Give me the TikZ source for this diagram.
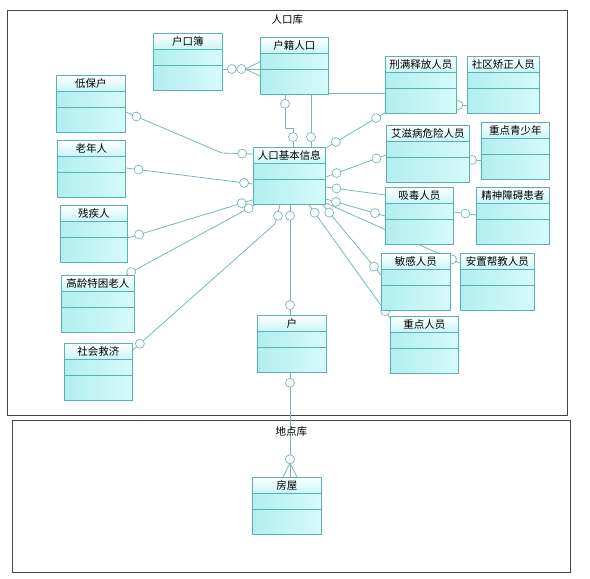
\documentclass[tikz,border=0pt]{standalone}
\usepackage{fontspec}
\setmainfont{Noto Sans CJK SC}
\usetikzlibrary{positioning,calc,backgrounds}
\definecolor{ClsEdge}{RGB}{88,178,178}
\definecolor{ClsFillA}{RGB}{178,238,240}
\definecolor{ClsFillB}{RGB}{214,250,250}
\definecolor{ClsHead}{RGB}{200,245,245}
\definecolor{RelLine}{RGB}{120,184,186}
\definecolor{FrameGray}{RGB}{70,70,70}

% class box: name, x, y (top left, px), width, title
\newcommand{\umlcls}[5]{%
  \node[cls,minimum width=#4pt] (#1) at (#2,#3) {};
  \node[clshead,minimum width=#4pt] (#1-t) at (#1.north) {#5};
  \draw[clsedge] ($(#1.north west)+(0,32)$) -- ($(#1.north east)+(0,32)$);
}

\begin{document}
\begin{tikzpicture}[x=1pt,y=-1pt,
  cls/.style={draw=ClsEdge,line width=0.8pt,left color=ClsFillA,right color=ClsFillB,
              minimum height=57pt,anchor=north west,inner sep=0pt},
  clshead/.style={draw=ClsEdge,line width=0.8pt,top color=white,bottom color=ClsHead,
                  minimum height=16pt,anchor=north,inner sep=0pt,
                  font=\fontsize{10.5}{12}\selectfont},
  clsedge/.style={ClsEdge,line width=0.8pt},
  rel/.style={RelLine,line width=0.8pt},
  optc/.style={circle,draw=RelLine,fill=white,line width=0.7pt,inner sep=0pt,minimum size=9pt},
  frm/.style={draw=FrameGray,line width=0.8pt,anchor=north west,inner sep=0pt},
  frmtitle/.style={font=\fontsize{10.5}{12}\selectfont},
]
\useasboundingbox (0,0) rectangle (590,579);

\begin{scope}[on background layer]
\fill[white] (0,0) rectangle (590,579);
\node[frm,minimum width=560pt,minimum height=405pt] (renkou) at (7,10) {};
\node[frm,minimum width=558pt,minimum height=152pt] (didian) at (12,420) {};
\end{scope}
\node[frmtitle] (renkou-t) at ($(renkou.north)+(0,10)$) {人口库};
\node[frmtitle] (didian-t) at ($(didian.north)+(0,12)$) {地点库};

% classes
\umlcls{hukoubu}{153}{33}{69}{户口簿}
\umlcls{huji}{260}{37}{68}{户籍人口}
\umlcls{xingman}{385}{56}{71}{刑满释放人员}
\umlcls{shequ}{467}{56}{72}{社区矫正人员}
\umlcls{dibao}{56}{75}{69}{低保户}
\umlcls{laonian}{57}{140}{68}{老年人}
\umlcls{jiben}{253}{147}{72}{人口基本信息}
\umlcls{aizi}{386}{125}{83}{艾滋病危险人员}
\umlcls{qingshao}{481}{122}{68}{重点青少年}
\umlcls{xidu}{385}{187}{68}{吸毒人员}
\umlcls{jingshen}{476}{187}{73}{精神障碍患者}
\umlcls{canji}{60}{205}{67}{残疾人}
\umlcls{mingan}{381}{253}{69}{敏感人员}
\umlcls{anzhi}{460}{253}{74}{安置帮教人员}
\umlcls{gaoling}{61}{275}{73}{高龄特困老人}
\umlcls{hu}{257}{315}{69}{户}
\umlcls{zhongdian}{390}{316}{68}{重点人员}
\umlcls{jiuji}{64}{343}{68}{社会救济}
\umlcls{fangwu}{252}{477}{69}{房屋}

% relations
\begin{scope}[on background layer]
\coordinate (hj-w) at ($(huji.north west)+(0,32)$);
\draw[rel] (hukoubu.east |- hj-w) -- node[optc,pos=0.24]{} node[optc,pos=0.5]{} (hj-w);
\draw[rel] ($(hj-w)+(-15,0)$) -- ($(hj-w)+(0,-7)$) ($(hj-w)+(-15,0)$) -- ($(hj-w)+(0,7)$);

\draw[rel] ($(huji.south west)+(25,0)$) |- ($(jiben.north west)+(40,-19)$) -- ($(jiben.north west)+(40,0)$);
\node[optc] (c-hj) at ($(huji.south west)+(25,9)$) {};
\node[optc] (c-jb) at ($(jiben.north west)+(40,-10)$) {};
\draw[rel] ($(huji.south west)+(51,0)$) -- node[optc,pos=0.81]{} ($(jiben.north west)+(58,0)$);

\coordinate (xm-w) at ($(xingman.north west)+(0,37)$);
\draw[rel] (huji.east |- xm-w) -- (xm-w);
\draw[rel] ($(xingman.north east)+(0,49)$) -- node[optc,pos=0.15]{} ($(shequ.north west)+(0,49)$);

\draw[rel] ($(jiben.north east)+(0,1)$) -- node[optc,pos=0.17]{} node[optc,pos=0.85]{} ($(xingman.south west)+(0,-1)$);
\draw[rel] ($(jiben.north east)+(0,30)$) -- node[optc,pos=0.18]{} node[optc,pos=0.84]{} ($(aizi.north west)+(0,30)$);
\draw[rel] ($(aizi.north east)+(0,35)$) -- node[optc,pos=0.2]{} ($(qingshao.north west)+(0,38)$);
\draw[rel] ($(jiben.north east)+(0,40)$) -- node[optc,pos=0.18]{} ($(xidu.north west)+(0,8)$);
\draw[rel] ($(jiben.north east)+(0,52)$) -- node[optc,pos=0.17]{} node[optc,pos=0.83]{} ($(xidu.north west)+(0,29)$);
\draw[rel] ($(jiben.north east)+(0,56)$) -- node[optc,pos=0.94]{} ($(anzhi.north west)+(0,10)$);
\draw[rel] ($(xidu.north east)+(0,25)$) -- node[optc,pos=0.52]{} ($(jingshen.north west)+(0,28)$);
\draw[rel] ($(jiben.south east)+(-3,0)$) -- node[optc,pos=0.11]{} node[optc,pos=0.88]{} ($(mingan.north west)+(0,22)$);
\draw[rel] ($(jiben.south west)+(56,0)$) -- node[optc,pos=0.07]{} node[optc,pos=0.94]{} ($(zhongdian.north west)+(0,2)$);

\draw[rel] ($(jiben.south west)+(37,0)$) -- node[optc,pos=0.1]{} node[optc,pos=0.91]{} ($(hu.north west)+(33,0)$);
\draw[rel] ($(jiben.south west)+(27,0)$) -- ($(jiben.south west)+(22,19)$) -- node[optc,pos=0.95]{} ($(jiuji.north east)+(0,7)$);
\node[optc] (c-jj) at ($(jiben.south west)+(25,11)$) {};
\draw[rel] ($(jiben.south west)+(2,0)$) -- node[optc,pos=0.05]{} node[optc,pos=0.96]{} ($(gaoling.north west)+(65,0)$);
\draw[rel] ($(jiben.south west)+(0,-5)$) -- node[optc,pos=0.09]{} node[optc,pos=0.91]{} ($(canji.north east)+(0,33)$);
\draw[rel] ($(jiben.north west)+(0,37)$) -- node[optc,pos=0.07]{} node[optc,pos=0.9]{} ($(laonian.north east)+(0,28)$);
\draw[rel] ($(jiben.north west)+(0,7)$) -- node[optc,pos=0.35]{} ($(jiben.north west)+(-31,6)$) -- node[optc,pos=0.89]{} ($(dibao.north east)+(0,37)$);

\coordinate (fw-n) at ($(fangwu.north west)+(38,0)$);
\draw[rel] ($(hu.south west)+(33,0)$) -- node[optc,pos=0.095]{} node[optc,pos=0.83]{} (fw-n);
\draw[rel] ($(fw-n)+(0,-14)$) -- ($(fw-n)+(-7,0)$) ($(fw-n)+(0,-14)$) -- ($(fw-n)+(7,0)$);
\end{scope}
\end{tikzpicture}
\end{document}
